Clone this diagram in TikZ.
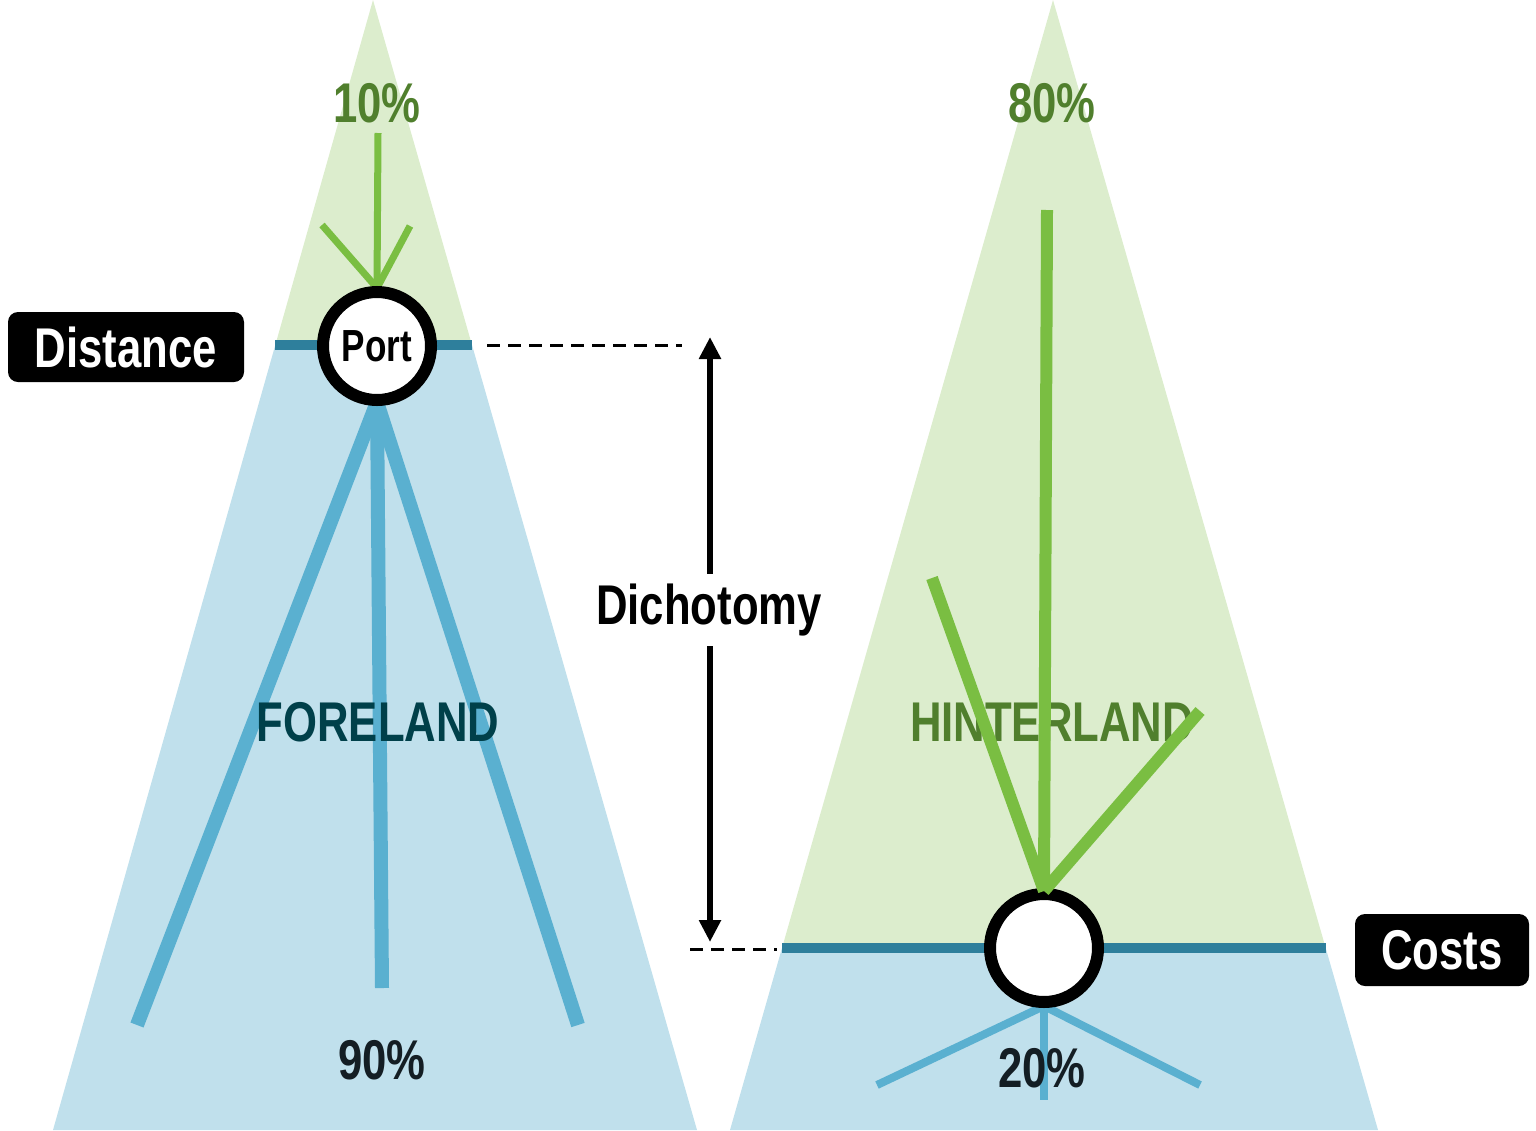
\documentclass[tikz,border=0pt]{standalone}
\usepackage{fontspec}
\setmainfont[FakeStretch=0.78]{Liberation Sans}
\usetikzlibrary{arrows.meta}
\definecolor{lgreen}{RGB}{220,237,205}
\definecolor{lblue}{RGB}{192,224,236}
\definecolor{gline}{RGB}{122,190,66}
\definecolor{bline}{RGB}{90,176,208}
\definecolor{teal2}{RGB}{46,127,156}
\definecolor{dgreen}{RGB}{80,127,45}
\definecolor{dteal}{RGB}{0,64,74}
\definecolor{dtext}{RGB}{20,30,36}
\tikzset{
  bigtxt/.style={font=\fontsize{56}{60}\selectfont\bfseries, inner sep=0pt},
  labelbox/.style={fill=black, text=white, rounded corners=10pt, font=\fontsize{56}{60}\selectfont\bfseries, inner sep=0pt},
  hubcircle/.style={circle, draw=black, line width=12pt, fill=white, minimum size=108pt, inner sep=0pt},
  greenflow/.style={draw=gline, line width=7pt},
  greenflowB/.style={draw=gline, line width=12pt},
  blueflow/.style={draw=bline, line width=14pt},
  blueflowS/.style={draw=bline, line width=8pt},
  baseline2/.style={draw=teal2, line width=10pt},
  dashline/.style={draw=black, line width=3pt, dash pattern=on 13pt off 8pt},
}
\begin{document}
\begin{tikzpicture}[x=1pt,y=-1pt]
\useasboundingbox (0,0) rectangle (1536,1130);
% left triangle
\fill[lgreen] (373,0) -- (275.3,345) -- (472,345) -- cycle;
\fill[lblue] (275.3,345) -- (53,1130) -- (697,1130) -- (472,345) -- cycle;
% right triangle
\fill[lgreen] (1053,0) -- (782,948) -- (1325.7,948) -- cycle;
\fill[lblue] (782,948) -- (730,1130) -- (1378,1130) -- (1325.7,948) -- cycle;
% coordinates
\coordinate (pb) at (377,402);
\coordinate (fl) at (137,1025);
\coordinate (fm) at (382,988);
\coordinate (fr) at (578,1025);
\coordinate (pt) at (377,288);
\coordinate (gt) at (378,133);
\coordinate (gl) at (322,225);
\coordinate (gr) at (410,226);
\coordinate (ht) at (1044,891);
\coordinate (hv) at (1047,210);
\coordinate (hl) at (932,578);
\coordinate (hr) at (1200,711);
\coordinate (hb) at (1044,1006);
\coordinate (bl) at (877,1085);
\coordinate (bm) at (1044,1100);
\coordinate (br) at (1200,1085);
% blue foreland flows
\draw[blueflow] (pb) -- (fl);
\draw[blueflow] (pb) -- (fm);
\draw[blueflow] (pb) -- (fr);
\node[bigtxt, text=dteal] (foreland) at (378,722) {FORELAND};
% blue hinterland-port flows
\draw[blueflowS] (hb) -- (bl);
\draw[blueflowS] (hb) -- (bm);
\draw[blueflowS] (hb) -- (br);
% base lines
\draw[baseline2] (275.3,345) -- (472,345);
\draw[baseline2] (782,948) -- (1325.7,948);
% green flows left
\draw[greenflow] (gt) -- (pt);
\draw[greenflow] (gl) -- (pt);
\draw[greenflow] (gr) -- (pt);
% circles
\node[hubcircle, font=\fontsize{45}{50}\selectfont\bfseries] (port) at (377,346) {Port};
\node[hubcircle] (hub) at (1044,948) {};
% hinterland text and flows
\node[bigtxt, text=dgreen] (hinter) at (1052,722) {HINTERLAND};
\draw[greenflowB] (hv) -- (ht);
\draw[greenflowB] (hl) -- (ht);
\draw[greenflowB] (hr) -- (ht);
% percentages
\node[bigtxt, text=dgreen] (p10) at (377,103) {10\%};
\node[bigtxt, text=dgreen] (p80) at (1052,103) {80\%};
\node[bigtxt, text=dtext] (p90) at (382,1060) {90\%};
\node[bigtxt, text=dtext] (p20) at (1042,1068) {20\%};
% labels
\node[labelbox, minimum width=236pt, minimum height=70pt] (dist) at (126,347) {Distance};
\node[labelbox, minimum width=174pt, minimum height=72pt] (costs) at (1442,950) {Costs};
% dashed lines
\coordinate (d1a) at (487,345);
\coordinate (d1b) at (682,345);
\coordinate (d2a) at (690,949);
\coordinate (d2b) at (777,949);
\draw[dashline] (d1a) -- (d1b);
\draw[dashline] (d2a) -- (d2b);
% dichotomy arrow
\coordinate (atop) at (710,337);
\coordinate (abot) at (710,942);
\draw[line width=6.5pt, {Triangle[length=22pt,width=21pt]}-{Triangle[length=22pt,width=21pt]}] (atop) -- (abot);
\node[bigtxt, fill=white, inner xsep=6pt, inner ysep=10pt] (dich) at (709,610) {Dichotomy};
\end{tikzpicture}
\end{document}
